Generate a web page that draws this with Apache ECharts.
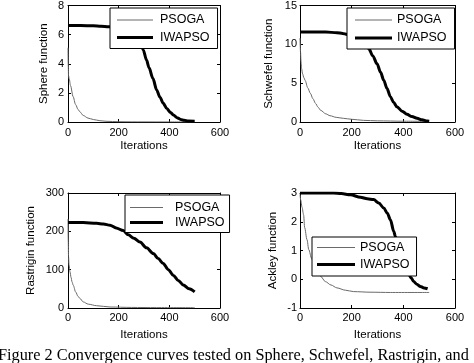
<!DOCTYPE html>
<html>
<head>
<meta charset="utf-8">
<script src="https://cdn.jsdelivr.net/npm/echarts@6/dist/echarts.min.js"></script>
<style>
html,body{margin:0;padding:0;background:#fff;}
#chart{width:474px;height:363px;}
</style>
</head>
<body>
<div id="chart"></div>
<script>
// ---- data (iteration, function value) ----
const seriesNames = ['PSOGA', 'IWAPSO'];
const xTicks = [0, 200, 400, 600];
const sphereTicks = [0, 2, 4, 6, 8];
const schwefelTicks = [0, 5, 10, 15];
const rastriginTicks = [0, 100, 200, 300];
const ackleyTicks = [-1, 0, 1, 2, 3];
const yNames = ['Sphere function', 'Schwefel function', 'Rastrigin function', 'Ackley function'];
const xName = 'Iterations';
const caption = 'Figure 2 Convergence curves tested on Sphere, Schwefel, Rastrigin, and';

const spherePSOGA = [[0,5.1],[1,3.9],[2,3.2],[5,2.95],[10,2.5],[20,1.75],[30,1.2],[40,0.85],[47,0.7],[60,0.45],[79,0.27],[100,0.17],[126,0.09],[150,0.05],[200,0.02],[250,0.01],[300,0.006],[400,0.003],[500,0.002]];
const sphereIWAPSO = [[0,6.62],[50,6.62],[100,6.61],[130,6.58],[160,6.54],[200,6.5],[230,6.42],[255,6.25],[272,5.9],[285,5.5],[297,4.95],[310,4.25],[320,3.72],[335,3.0],[350,2.2],[363,1.7],[376,1.28],[390,0.92],[405,0.65],[416,0.48],[430,0.3],[445,0.18],[458,0.12],[475,0.07],[500,0.05]];

const schwefelPSOGA = [[0,10.8],[2,9.0],[4,7.8],[6,6.9],[10,6.2],[15,5.7],[20,5.35],[30,4.4],[40,3.7],[50,3.0],[60,2.4],[70,1.9],[80,1.5],[100,1.05],[116,0.81],[140,0.6],[169,0.47],[200,0.35],[246,0.21],[300,0.15],[400,0.1],[500,0.08]];
const schwefelIWAPSO = [[0,11.6],[50,11.6],[100,11.58],[143,11.5],[165,11.4],[182,11.28],[200,11.1],[220,10.8],[240,10.35],[255,9.9],[266,9.45],[282,8.5],[298,7.5],[312,6.4],[324,5.38],[337,4.3],[350,3.25],[362,2.55],[375,1.97],[395,1.4],[414,0.99],[433,0.7],[453,0.47],[472,0.28],[492,0.13],[500,0.1]];

const rastriginPSOGA = [[0,232],[1,175],[2,135],[4,113],[8,94],[12,80],[16,68],[21,59],[30,42],[40,30],[47,25],[60,16],[80,10],[113,6],[166,2.6],[250,1.5],[350,1.0],[500,0.8]];
const rastriginIWAPSO = [[0,223],[60,223],[113,221],[140,219],[166,216],[190,209],[218,202],[238,191],[260,182],[284,172],[310,157],[337,142],[356,129],[376,116],[396,100],[416,85],[435,72],[455,60],[478,50],[500,42]];

const ackleyPSOGA = [[0,2.95],[3,2.75],[8,2.5],[14,2.24],[18,1.8],[27,1.38],[34,1.03],[45,0.72],[55,0.48],[65,0.3],[80,0.1],[98,-0.08],[120,-0.2],[143,-0.3],[175,-0.38],[208,-0.43],[271,-0.45],[350,-0.46],[500,-0.46]];
const ackleyIWAPSO = [[0,3.0],[130,3.0],[160,2.98],[195,2.94],[234,2.85],[260,2.8],[285,2.77],[305,2.65],[324,2.48],[338,2.3],[350,2.07],[363,1.66],[369,1.5],[385,1.05],[400,0.65],[415,0.3],[430,0.05],[440,-0.08],[452,-0.17],[466,-0.25],[480,-0.3],[494,-0.33]];

// ---- layout ----
const panels = [
  {grid:{left:68, top:5, width:152, height:117}, ticks:sphereTicks, psoga:spherePSOGA, iwapso:sphereIWAPSO,
   yGap:18, xGap:17.5, xMargin:5, yMargin:4,
   legend:{left:110, top:8, padding:[5.5,8,4.5,7], itemWidth:36, itemGap:4.5, textPad:2}},
  {grid:{left:300, top:5, width:155, height:117}, ticks:schwefelTicks, psoga:schwefelPSOGA, iwapso:schwefelIWAPSO,
   yGap:25, xGap:17.5, xMargin:5, yMargin:3,
   legend:{left:347, top:8, padding:[5.5,8,4.5,8], itemWidth:37, itemGap:5, textPad:0}},
  {grid:{left:68, top:193, width:152, height:115}, ticks:rastriginTicks, psoga:rastriginPSOGA, iwapso:rastriginIWAPSO,
   yGap:31, xGap:20.5, xMargin:4, yMargin:4,
   legend:{left:125, top:195, padding:[6,5,3.5,5], itemWidth:33, itemGap:2, textPad:7}},
  {grid:{left:300, top:193, width:155, height:115}, ticks:ackleyTicks, psoga:ackleyPSOGA, iwapso:ackleyIWAPSO,
   yGap:21, xGap:20.5, xMargin:4, yMargin:3,
   legend:{left:312, top:237, padding:[4,7,5,5], itemWidth:38, itemGap:4, textPad:0}}
];

const FONT = 'Liberation Sans';
const COLORS = ['#6a6a6a', '#000'];
const WIDTHS = [1, 3];
const axisLineS = {show:true, onZero:false, lineStyle:{color:'#000', width:1}};
const tickS = {show:true, inside:true, length:3, lineStyle:{color:'#000', width:1}};

const grids = [], xAxes = [], yAxes = [], series = [], legends = [];
panels.forEach((p, i) => {
  grids.push(Object.assign({containLabel:false, show:false}, p.grid));
  const yMin = p.ticks[0], yMax = p.ticks[p.ticks.length-1], yInt = p.ticks[1]-p.ticks[0];
  const xMin = xTicks[0], xMax = xTicks[xTicks.length-1], xInt = xTicks[1]-xTicks[0];
  xAxes.push({type:'value', gridIndex:i, position:'bottom', min:xMin, max:xMax, interval:xInt,
    name:xName, nameLocation:'middle', nameGap:p.xGap,
    nameTextStyle:{color:'#000', fontFamily:FONT, fontSize:11.5},
    axisLine:axisLineS, axisTick:tickS, splitLine:{show:false},
    axisLabel:{color:'#000', fontFamily:FONT, fontSize:11, margin:p.xMargin}});
  xAxes.push({type:'value', gridIndex:i, position:'top', min:xMin, max:xMax, interval:xInt,
    axisLine:axisLineS, axisTick:tickS, splitLine:{show:false}, axisLabel:{show:false}});
  yAxes.push({type:'value', gridIndex:i, position:'left', min:yMin, max:yMax, interval:yInt,
    name:yNames[i], nameLocation:'middle', nameGap:p.yGap,
    nameTextStyle:{color:'#000', fontFamily:FONT, fontSize:11.5},
    axisLine:axisLineS, axisTick:tickS, splitLine:{show:false},
    axisLabel:{color:'#000', fontFamily:FONT, fontSize:11, margin:p.yMargin}});
  yAxes.push({type:'value', gridIndex:i, position:'right', min:yMin, max:yMax, interval:yInt,
    axisLine:axisLineS, axisTick:tickS, splitLine:{show:false}, axisLabel:{show:false}});

  series.push({name:seriesNames[0], type:'line', xAxisIndex:2*i, yAxisIndex:2*i, data:p.psoga,
    symbol:'none', smooth:0.3, smoothMonotone:'x', lineStyle:{color:COLORS[0], width:WIDTHS[0]}, itemStyle:{color:COLORS[0]}, z:2});
  series.push({name:seriesNames[1], type:'line', xAxisIndex:2*i, yAxisIndex:2*i, data:p.iwapso,
    symbol:'none', smooth:0.3, smoothMonotone:'x', lineStyle:{color:COLORS[1], width:WIDTHS[1]}, itemStyle:{color:COLORS[1]}, z:3});

  const L = p.legend;
  legends.push({orient:'vertical', left:L.left, top:L.top, padding:L.padding, itemWidth:L.itemWidth,
    itemHeight:12, itemGap:L.itemGap, selectedMode:false, symbolKeepAspect:true,
    data:seriesNames.map((n, k) => ({name:n,
      icon:'path://M0,0H' + L.itemWidth + 'V' + WIDTHS[k] + 'H0Z',
      itemStyle:{color:COLORS[k], borderWidth:0}})),
    backgroundColor:'#fff', borderColor:'#000', borderWidth:1, borderRadius:0, z:10,
    textStyle:{color:'#000', fontFamily:FONT, fontSize:12.5, padding:[0,0,0,L.textPad]}});
});

const chart = echarts.init(document.getElementById('chart'), null, {renderer:'canvas'});
chart.setOption({
  animation:false,
  backgroundColor:'#fff',
  grid:grids, xAxis:xAxes, yAxis:yAxes, series:series, legend:legends,
  graphic:[{type:'text', left:-2, top:348, z:20,
    style:{text:caption, fill:'#000', font:'16.3px "Liberation Serif"'}}]
});
</script>
</body>
</html>
